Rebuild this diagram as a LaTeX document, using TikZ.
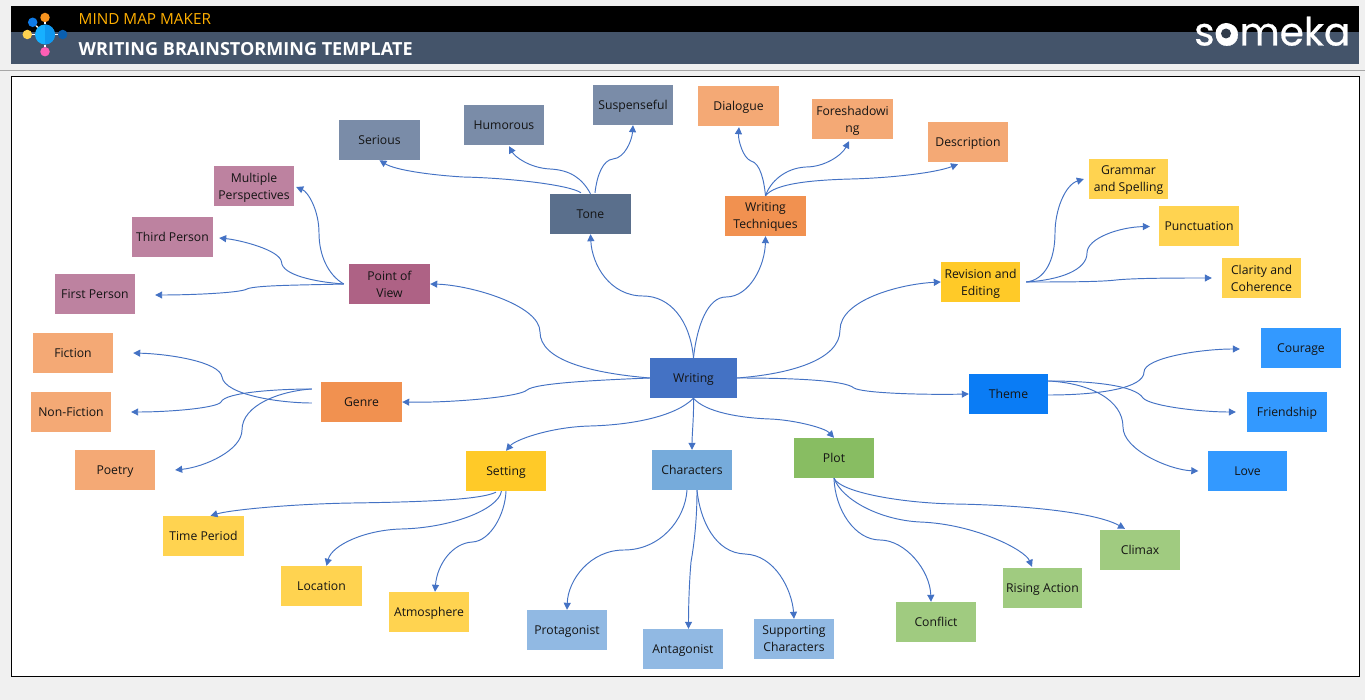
\documentclass[tikz,border=0pt]{standalone}
\usepackage{fontspec}
\setmainfont{Open Sans}
\newfontfamily\brandfont[FakeBold=0.6]{Poppins}
\usetikzlibrary{arrows.meta}
\definecolor{pagebg}{HTML}{F0F0F0}
\definecolor{slatebar}{HTML}{44546A}
\definecolor{linkblue}{HTML}{4472C4}
\definecolor{makercol}{HTML}{FFB000}
\definecolor{hubL}{HTML}{17B0FF}
\definecolor{hubR}{HTML}{1098F0}
\definecolor{satOrange}{HTML}{F7931E}
\definecolor{satBlue}{HTML}{0F7BE8}
\definecolor{satDark}{HTML}{0A5FB0}
\definecolor{satPink}{HTML}{FF5FB5}
\definecolor{cWriting}{HTML}{4472C4}
\definecolor{cTone}{HTML}{5A6F8C}
\definecolor{cToneL}{HTML}{7A8CA8}
\definecolor{cOrange}{HTML}{F19150}
\definecolor{cOrangeL}{HTML}{F4A975}
\definecolor{cPov}{HTML}{AE6285}
\definecolor{cPovL}{HTML}{BD82A0}
\definecolor{cGold}{HTML}{FFCA28}
\definecolor{cGoldL}{HTML}{FFD350}
\definecolor{cTheme}{HTML}{0A7CF5}
\definecolor{cThemeL}{HTML}{3399FF}
\definecolor{cPlot}{HTML}{88BD62}
\definecolor{cPlotL}{HTML}{A0CB80}
\definecolor{cChar}{HTML}{76ABDB}
\definecolor{cCharL}{HTML}{91B9E3}
\tikzset{
  mapbox/.style={rectangle,draw=none,fill=#1,minimum width=80pt,minimum height=40pt,inner sep=0pt,
    align=center,text=black!92,text depth=0pt,font=\fontsize{12.2pt}{17pt}\selectfont},
  link/.style={draw=linkblue,line width=0.95pt,-{Triangle[length=7pt,width=7pt]}},
  sat/.style={circle,draw=none,minimum size=9.5pt,inner sep=0pt},
  spoke/.style={draw=white,line width=1.4pt},
}
\begin{document}
\begin{tikzpicture}[x=1pt,y=-1pt]
\useasboundingbox (0,0) rectangle (1365,700);
\fill[pagebg] (0,0) rectangle (1365,700);
% header
\fill[black] (11,6) rectangle (1359,32);
\fill[slatebar] (11,32) rectangle (1359,64);
\draw[color=black!35,line width=1pt] (0,70.5) -- (1365,70.5);
\draw[black,fill=white,line width=1pt] (11.5,76.5) rectangle (1359.5,676.5);
\node[anchor=west,inner sep=0pt,text=makercol,font=\fontsize{15.3pt}{17pt}\selectfont] (maker) at (78.5,19.5) {MIND MAP MAKER};
\node[anchor=west,inner sep=0pt,text=white,font=\fontsize{18.05pt}{20pt}\selectfont\bfseries] (title) at (78.5,49.5) {WRITING BRAINSTORMING TEMPLATE};
% logo
\node[circle,fill=hubL,minimum size=20pt,inner sep=0pt] (hub) at (45,34.5) {};
\fill[hubR] (45,24.5) arc[start angle=-90,end angle=90,radius=10] -- cycle;
\node[sat,fill=satOrange] (s1) at (45,17.5) {};
\node[sat,fill=satBlue] (s2) at (32.7,22.3) {};
\node[sat,fill=cGoldL] (s3) at (27.3,34.5) {};
\node[sat,fill=satDark] (s4) at (62.7,34.5) {};
\node[sat,fill=satPink] (s5) at (45,51.7) {};
\draw[spoke] (hub) -- (s1);
\draw[spoke] (hub) -- (s2);
\draw[spoke] (hub) -- (s3);
\draw[spoke] (hub) -- (s4);
\draw[spoke] (hub) -- (s5);
% brand
\node[anchor=base west,inner sep=0pt,text=white,font=\brandfont\fontsize{39pt}{41pt}\selectfont] (brand) at (1194,45.5) {someka};
\node[circle,fill=white,minimum size=21pt,inner sep=0pt] (brando) at (1226,33.5) {};
\node[circle,fill=slatebar!70!black,minimum size=10pt,inner sep=0pt] (brandeye) at (1226,33.5) {};
% nodes
\node[mapbox=cWriting,minimum width=87pt] (writing) at (693.5,378) {Writing};
\node[mapbox=cTone,minimum width=81pt] (tone) at (590.5,214) {Tone};
\node[mapbox=cToneL,minimum width=81pt] (serious) at (379.5,140) {Serious};
\node[mapbox=cToneL] (humorous) at (504,125) {Humorous};
\node[mapbox=cToneL] (suspense) at (633,105) {Suspenseful};
\node[mapbox=cOrange,minimum width=81pt] (tech) at (765.5,216) {Writing\\Techniques};
\node[mapbox=cOrangeL,minimum width=81pt] (dialogue) at (738.5,106) {Dialogue};
\node[mapbox=cOrangeL,minimum width=81pt] (foreshadow) at (852.5,119) {Foreshadowi\\ng};
\node[mapbox=cOrangeL] (descr) at (968,142) {Description};
\node[mapbox=cGold,minimum width=79pt] (revision) at (980.5,282) {Revision and\\Editing};
\node[mapbox=cGoldL,minimum width=79pt] (grammar) at (1128.5,179) {Grammar\\and Spelling};
\node[mapbox=cGoldL] (punct) at (1199,226) {Punctuation};
\node[mapbox=cGoldL,minimum width=79pt] (clarity) at (1261.5,278) {Clarity and\\Coherence};
\node[mapbox=cTheme,minimum width=79pt] (theme) at (1008.5,394) {Theme};
\node[mapbox=cThemeL] (courage) at (1301,348) {Courage};
\node[mapbox=cThemeL] (friend) at (1287,412) {Friendship};
\node[mapbox=cThemeL,minimum width=79pt] (love) at (1247.5,471) {Love};
\node[mapbox=cPlot] (plot) at (834,458) {Plot};
\node[mapbox=cPlotL] (climax) at (1140,550) {Climax};
\node[mapbox=cPlotL,minimum width=79pt] (rising) at (1042.5,588) {Rising Action};
\node[mapbox=cPlotL] (conflict) at (936,622) {Conflict};
\node[mapbox=cChar] (chars) at (692,470) {Characters};
\node[mapbox=cCharL] (protag) at (567,630) {Protagonist};
\node[mapbox=cCharL] (antag) at (683,649) {Antagonist};
\node[mapbox=cCharL] (support) at (794,639) {Supporting\\Characters};
\node[mapbox=cGold] (setting) at (506,471) {Setting};
\node[mapbox=cGoldL,minimum width=81pt] (timep) at (203.5,536) {Time Period};
\node[mapbox=cGoldL,minimum width=81pt] (location) at (321.5,586) {Location};
\node[mapbox=cGoldL] (atmos) at (429,612) {Atmosphere};
\node[mapbox=cPov,minimum width=81pt] (pov) at (389.5,284) {Point of\\View};
\node[mapbox=cPovL] (multi) at (254,186) {Multiple\\Perspectives};
\node[mapbox=cPovL,minimum width=81pt] (third) at (172.5,237) {Third Person};
\node[mapbox=cPovL] (first) at (95,294) {First Person};
\node[mapbox=cOrange,minimum width=81pt] (genre) at (361.5,402) {Genre};
\node[mapbox=cOrangeL] (fiction) at (73,353) {Fiction};
\node[mapbox=cOrangeL] (nonfic) at (71,412) {Non-Fiction};
\node[mapbox=cOrangeL] (poetry) at (115,470) {Poetry};
% connectors from Writing
\draw[link] (writing.west) .. controls (590,373) and (540,360) .. (540,332) .. controls (540,305) and (470,285) .. (pov.east);
\draw[link] (writing.north) .. controls (690,320) and (670,296) .. (643,296) .. controls (610,296) and (592,265) .. (tone.south);
\draw[link] (writing.north) .. controls (697,325) and (708,297) .. (726,297) .. controls (750,297) and (765,265) .. (tech.south);
\draw[link] (writing.east) .. controls (790,374) and (840,360) .. (840,330) .. controls (840,300) and (900,284) .. (revision.west);
\draw[link] (writing.east) .. controls (790,378) and (845,380) .. (854,388) .. controls (862,393) and (920,395) .. (theme.west);
\draw[link] (writing.west) .. controls (600,380) and (535,383) .. (527,390) .. controls (520,397) and (450,403) .. (genre.east);
\draw[link] (writing.south) .. controls (675,417) and (630,425) .. (590,426) .. controls (550,427) and (515,440) .. (setting.north);
\draw[link] (writing.south) .. controls (694,415) and (692,435) .. (chars.north);
\draw[link] (writing.south) .. controls (705,412) and (740,418) .. (770,419) .. controls (795,420) and (825,428) .. (plot.north);
% Tone
\draw[link] ([shift={(-9.5,-1)}]tone.north) .. controls (570,185) and (510,178) .. (463,177) .. controls (430,175) and (395,170) .. (serious.south);
\draw[link] (tone.north) .. controls (582,178) and (570,170) .. (550,169) .. controls (530,168) and (515,157) .. ([shift={(5,1)}]humorous.south);
\draw[link] ([shift={(4.5,-1)}]tone.north) .. controls (597,175) and (603,160) .. (613,159) .. controls (625,158) and (632,140) .. (suspense.south);
% Writing Techniques
\draw[link] (tech.north) .. controls (764,180) and (760,163) .. (751,161) .. controls (743,158) and (738,140) .. ([shift={(0.5,1)}]dialogue.south);
\draw[link] (tech.north) .. controls (770,182) and (785,168) .. (806,167) .. controls (825,167) and (842,155) .. ([shift={(-3.5,2)}]foreshadow.south);
\draw[link] (tech.north) .. controls (775,183) and (815,180) .. (851,179) .. controls (890,178) and (935,173) .. ([shift={(-10,2)}]descr.south);
% Revision
\draw[link] ([shift={(6,0)}]revision.east) .. controls (1045,280) and (1055,260) .. (1055,233) .. controls (1055,210) and (1065,185) .. ([shift={(-5,0)}]grammar.west);
\draw[link] ([shift={(6,0)}]revision.east) .. controls (1060,280) and (1087,270) .. (1087,253) .. controls (1087,238) and (1120,227) .. ([shift={(-9,0.5)}]punct.west);
\draw[link] ([shift={(6,0)}]revision.east) .. controls (1060,282) and (1100,282) .. (1116,280) .. controls (1135,278) and (1180,278) .. ([shift={(-10,0)}]clarity.west);
% Theme
\draw[link] ([shift={(0,1)}]theme.east) .. controls (1100,395) and (1144,388) .. (1144,372) .. controls (1144,358) and (1200,349) .. ([shift={(-21,1)}]courage.west);
\draw[link] ([shift={(0,-13)}]theme.east) .. controls (1090,381) and (1135,385) .. (1143,398) .. controls (1150,406) and (1200,412) .. ([shift={(-11,0)}]friend.west);
\draw[link] ([shift={(0,-13)}]theme.east) .. controls (1090,383) and (1123,400) .. (1123,427) .. controls (1123,450) and (1170,470) .. ([shift={(-9.5,0)}]love.west);
% Plot
\draw[link] (plot.south) .. controls (840,492) and (900,503) .. (955,504) .. controls (1020,505) and (1095,512) .. ([shift={(-15,-1)}]climax.north);
\draw[link] (plot.south) .. controls (842,500) and (880,520) .. (920,522) .. controls (975,524) and (1025,550) .. ([shift={(-10.5,-1)}]rising.north);
\draw[link] (plot.south) .. controls (835,510) and (855,540) .. (880,540) .. controls (905,540) and (930,570) .. ([shift={(-5,0)}]conflict.north);
% Characters
\draw[link] ([shift={(-5,0)}]chars.south) .. controls (685,520) and (660,550) .. (624,550) .. controls (590,550) and (568,580) .. (protag.north);
\draw[link] ([shift={(5,0)}]chars.south) .. controls (697,520) and (694,545) .. (691,562) .. controls (689,585) and (688.5,610) .. ([shift={(5.5,0)}]antag.north);
\draw[link] ([shift={(5,0)}]chars.south) .. controls (700,520) and (715,553) .. (745,554) .. controls (775,555) and (792,590) .. (support.north);
% Setting
\draw[link] ([shift={(-10,1)}]setting.south) .. controls (480,500) and (420,502) .. (352,503) .. controls (290,504) and (230,510) .. ([shift={(7,0)}]timep.north);
\draw[link] ([shift={(-4.5,0)}]setting.south) .. controls (498,510) and (450,528) .. (401,529) .. controls (365,530) and (332,545) .. ([shift={(5,0)}]location.north);
\draw[link] (setting.south) .. controls (505,515) and (490,541) .. (472.5,542) .. controls (452,543) and (437,565) .. ([shift={(6,0)}]atmos.north);
% Point of View
\draw[link] ([shift={(-5,0)}]pov.west) .. controls (328,275) and (319,255) .. (319,233) .. controls (319,210) and (308,192) .. ([shift={(2,1)}]multi.east);
\draw[link] ([shift={(-5,0)}]pov.west) .. controls (315,282) and (282,275) .. (281.5,262) .. controls (280,250) and (240,240) .. ([shift={(6,1)}]third.east);
\draw[link] ([shift={(-5,0)}]pov.west) .. controls (310,285) and (255,285) .. (247,289) .. controls (240,293) and (190,295) .. ([shift={(20,1)}]first.east);
% Genre
\draw[link] ([shift={(-9,1)}]genre.west) .. controls (280,403) and (225,395) .. (222,377) .. controls (220,362) and (170,354) .. ([shift={(20,0)}]fiction.east);
\draw[link] ([shift={(-9,-13)}]genre.west) .. controls (280,389) and (225,392) .. (221,402) .. controls (217,408) and (170,412) .. ([shift={(20,0)}]nonfic.east);
\draw[link] ([shift={(-9,-13)}]genre.west) .. controls (280,391) and (242,405) .. (242,430) .. controls (242,450) and (205,467) .. ([shift={(20,0)}]poetry.east);
\end{tikzpicture}
\end{document}
